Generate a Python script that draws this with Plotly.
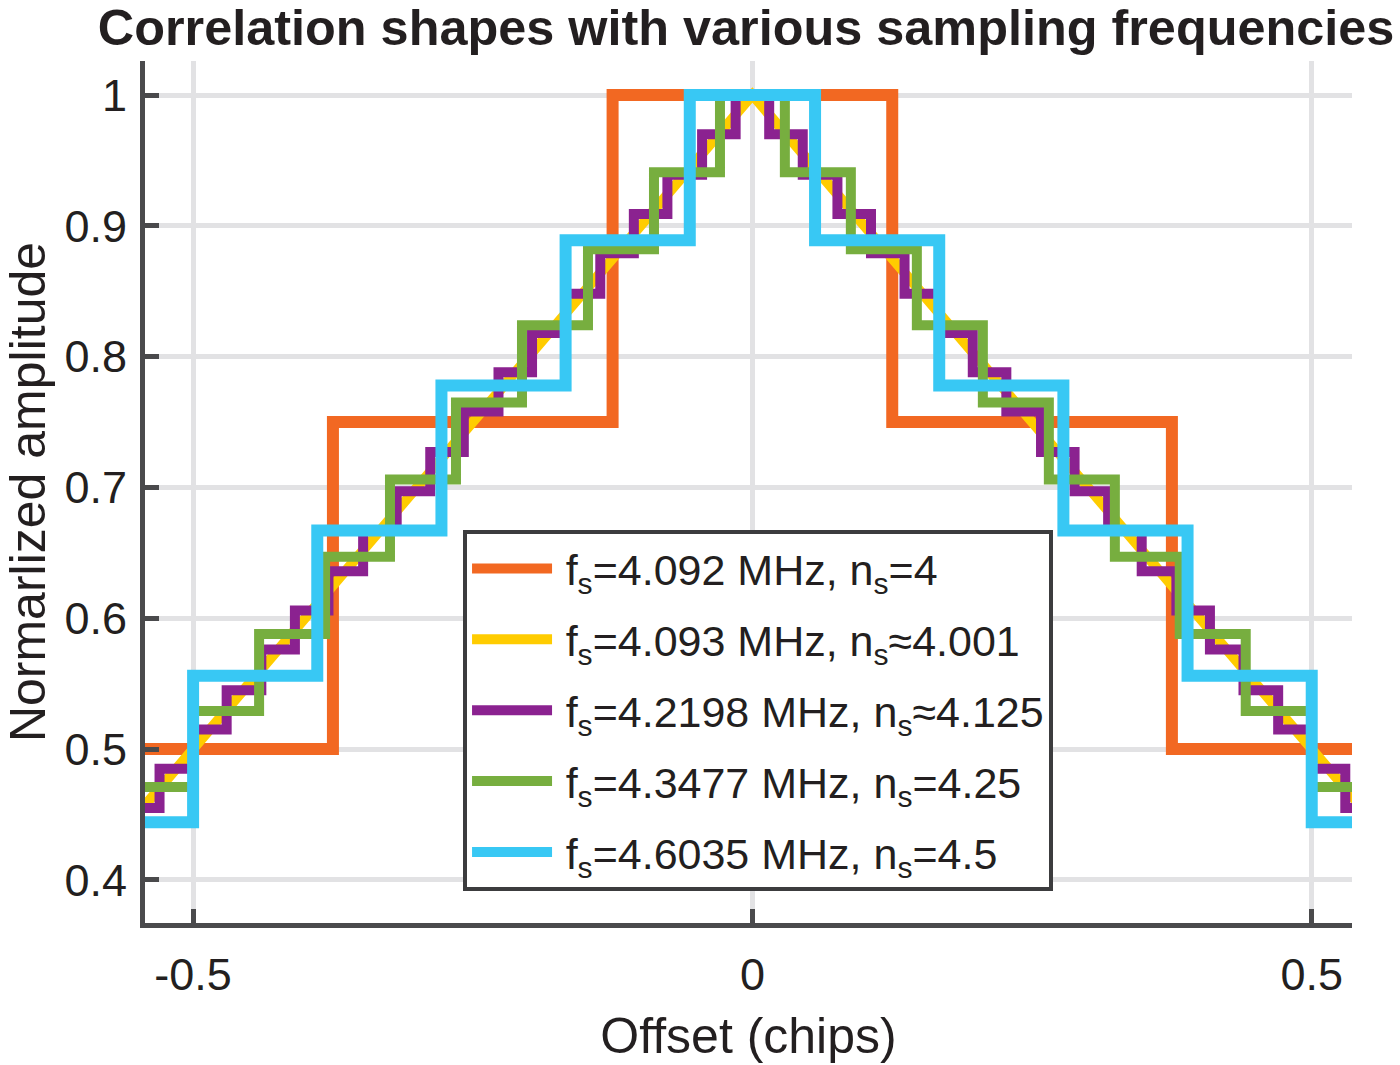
import plotly.graph_objects as go

# ---- data ----
series_names = [
    "\u2009f<sub>s</sub>=4.092 MHz, n<sub>s</sub>=4",
    "\u2009f<sub>s</sub>=4.093 MHz, n<sub>s</sub>≈4.001",
    "\u2009f<sub>s</sub>=4.2198 MHz, n<sub>s</sub>≈4.125",
    "\u2009f<sub>s</sub>=4.3477 MHz, n<sub>s</sub>=4.25",
    "\u2009f<sub>s</sub>=4.6035 MHz, n<sub>s</sub>=4.5",
]
series_colors = ["#F26822", "#FFCC00", "#8B2290", "#77AE3F", "#38C8F4"]
series_widths = [12, 10, 10, 10, 12]

# fs = 4.092 MHz (step positions in chips, level after each step)
orange_x = [-0.55, -0.375, -0.125, 0.125, 0.375, 0.55]
orange_y = [0.5, 0.75, 1.0, 0.75, 0.5, 0.5]

# fs = 4.093 MHz (practically continuous triangle)
yellow_x = [-0.55, 0.0, 0.55]
yellow_y = [0.45, 1.0, 0.45]

# fs = 4.2198 MHz
purple_x = [-0.55, -0.530, -0.500, -0.470, -0.439, -0.409, -0.379, -0.348, -0.318,
            -0.288, -0.258, -0.227, -0.197, -0.167, -0.136, -0.106, -0.076, -0.045,
            -0.015, 0.015, 0.045, 0.076, 0.106, 0.136, 0.167, 0.197, 0.227, 0.258,
            0.288, 0.318, 0.348, 0.379, 0.409, 0.439, 0.470, 0.500, 0.530, 0.55]
purple_y = [0.455, 0.485, 0.515, 0.545, 0.576, 0.606, 0.636, 0.667, 0.697,
            0.727, 0.758, 0.788, 0.818, 0.848, 0.879, 0.909, 0.939, 0.970,
            1.000, 0.970, 0.939, 0.909, 0.879, 0.848, 0.818, 0.788, 0.758, 0.727,
            0.697, 0.667, 0.636, 0.606, 0.576, 0.545, 0.515, 0.485, 0.455, 0.455]

# fs = 4.3477 MHz
green_x = [-0.55, -0.500, -0.441, -0.382, -0.324, -0.265, -0.206, -0.147, -0.088, -0.029,
           0.029, 0.088, 0.147, 0.206, 0.265, 0.324, 0.382, 0.441, 0.500, 0.55]
green_y = [0.471, 0.529, 0.588, 0.647, 0.706, 0.765, 0.824, 0.882, 0.941, 1.000,
           0.941, 0.882, 0.824, 0.765, 0.706, 0.647, 0.588, 0.529, 0.471, 0.471]

# fs = 4.6035 MHz
blue_x = [-0.55, -0.500, -0.389, -0.278, -0.167, -0.056, 0.056, 0.167, 0.278, 0.389, 0.500, 0.55]
blue_y = [0.444, 0.556, 0.667, 0.778, 0.889, 1.000, 0.889, 0.778, 0.667, 0.556, 0.444, 0.444]

x_tick_vals = [-0.5, 0, 0.5]
x_tick_text = ["-0.5", "0", "0.5"]
y_tick_vals = [0.4, 0.5, 0.6, 0.7, 0.8, 0.9, 1.0]
y_tick_text = ["0.4", "0.5", "0.6", "0.7", "0.8", "0.9", "1"]

xs = [orange_x, yellow_x, purple_x, green_x, blue_x]
ys = [orange_y, yellow_y, purple_y, green_y, blue_y]
shapes = ["hv", "linear", "hv", "hv", "hv"]

FONT = "Liberation Sans, Arial, Helvetica, sans-serif"
AXIS_COLOR = "#4a4a4c"
TEXT_COLOR = "#231f20"
GRID_COLOR = "#e2e2e4"

fig = go.Figure()
for i in range(5):
    fig.add_trace(go.Scatter(
        x=xs[i], y=ys[i], mode="lines", name=series_names[i],
        legendgroup=f"g{i}",
        line=dict(color=series_colors[i], width=series_widths[i], shape=shapes[i]),
    ))

fig.update_layout(
    width=1400, height=1065,
    paper_bgcolor="white", plot_bgcolor="white",
    margin=dict(l=145, r=48, t=61, b=142, autoexpand=False),
    font=dict(family=FONT, color=TEXT_COLOR, size=45),
    title=dict(
        text="Correlation shapes with various sampling frequencies",
        font=dict(family=FONT, size=50.4, color=TEXT_COLOR, weight="bold"),
        x=0.498, xref="paper", xanchor="center",
        y=1 - 27 / 1065, yref="container", yanchor="middle",
    ),
    showlegend=True,
    legend=dict(
        x=0.2635, y=0.456, xanchor="left", yanchor="top",
        bgcolor="white", bordercolor="#3c3c3e", borderwidth=4,
        font=dict(family=FONT, size=43, color=TEXT_COLOR),
        itemwidth=80, tracegroupgap=12, traceorder="grouped",
    ),
)

fig.update_xaxes(
    range=[-0.543, 0.536], tickmode="array", tickvals=x_tick_vals, ticktext=x_tick_text,
    showline=True, linecolor=AXIS_COLOR, linewidth=5, mirror=False,
    ticks="inside", ticklen=14, tickwidth=5, tickcolor=AXIS_COLOR,
    showgrid=True, gridcolor=GRID_COLOR, gridwidth=5, zeroline=False,
    tickfont=dict(size=45, family=FONT, color=TEXT_COLOR), ticklabelstandoff=8,
    title=dict(text="Offset (chips)", font=dict(size=50, family=FONT, color=TEXT_COLOR), standoff=20),
)
fig.update_yaxes(
    range=[0.367, 1.026], tickmode="array", tickvals=y_tick_vals, ticktext=y_tick_text,
    showline=True, linecolor=AXIS_COLOR, linewidth=5, mirror=False,
    ticks="inside", ticklen=14, tickwidth=5, tickcolor=AXIS_COLOR,
    showgrid=True, gridcolor=GRID_COLOR, gridwidth=5, zeroline=False,
    tickfont=dict(size=45, family=FONT, color=TEXT_COLOR), ticklabelstandoff=4,
    title=dict(text="Normarlized amplitude", font=dict(size=50, family=FONT, color=TEXT_COLOR), standoff=14),
)

fig.write_html("out.html", config={"displayModeBar": False},
               post_script="document.body.style.margin='0';")
